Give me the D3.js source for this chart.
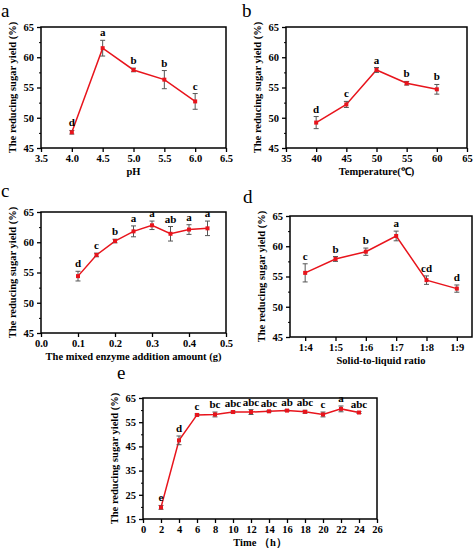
<!DOCTYPE html><html><head><meta charset="utf-8">
<script src="https://cdn.jsdelivr.net/npm/d3@7"></script>
<style>body{margin:0;background:#fff}svg{font-family:"Liberation Serif",serif}</style></head><body>
<svg id="s" width="474" height="551"></svg>
<script>
const aX=[4.0,4.5,5.0,5.5,6.0], aY=[47.6,61.5,57.9,56.3,52.7], aE=[0.3,1.3,0.3,1.5,1.3], aL=["d","a","b","b","c"];
const bX=[40,45,50,55,60], bY=[49.2,52.2,57.9,55.7,54.7], bE=[1.0,0.5,0.4,0.3,0.8], bL=["d","c","a","b","b"];
const cX=[0.1,0.15,0.2,0.25,0.3,0.35,0.4,0.45], cY=[54.4,57.9,60.2,61.8,62.8,61.4,62.1,62.3], cE=[0.8,0.3,0.3,0.9,0.7,1.2,0.8,1.2], cL=["d","c","b","a","a","ab","a","a"];
const dX=["1:4","1:5","1:6","1:7","1:8","1:9"], dY=[55.6,57.9,59.1,61.7,54.4,53.0], dE=[1.5,0.4,0.6,0.8,0.7,0.6], dL=["c","b","b","a","cd","d"];
const eX=[2,4,6,8,10,12,14,16,18,20,22,24], eY=[19.8,47.5,58.0,58.2,59.2,59.2,59.5,59.8,59.3,58.2,60.5,59.0], eE=[0.8,1.8,0.4,1.0,0.4,1.0,0.3,0.3,0.6,1.0,1.2,0.4], eL=["e","d","c","bc","abc","abc","abc","ab","abc","c","a","abc"];
const yT=[45,50,55,60,65], eYT=[15,25,35,45,55,65];
const svg=d3.select("#s"), red="#e8141c";
function panel(o){
 const g=svg.append("g");
 const x=o.cat?d3.scalePoint().domain(o.xs).range([o.l,o.r]).padding(0.5):d3.scaleLinear().domain(o.xd).range([o.l,o.r]);
 const y=d3.scaleLinear().domain(o.yd).range([o.b,o.t]);
 g.append("rect").attr("x",o.l).attr("y",o.t).attr("width",o.r-o.l).attr("height",o.b-o.t).attr("fill","none").attr("stroke","#000").attr("stroke-width",1.5);
 const xa=o.cat?d3.axisBottom(x):d3.axisBottom(x).tickValues(o.xt).tickFormat(o.xf);
 const gx=g.append("g").attr("transform",`translate(0,${o.b})`).call(xa.tickSize(4).tickSizeOuter(0));
 const gy=g.append("g").attr("transform",`translate(${o.l},0)`).call(d3.axisLeft(y).tickValues(o.yt).tickSize(4).tickSizeOuter(0));
 const minor=[];for(let i=0;i<o.yt.length-1;i++)minor.push((o.yt[i]+o.yt[i+1])/2);
 g.append("g").attr("transform",`translate(${o.l},0)`).call(d3.axisLeft(y).tickValues(minor).tickSize(2).tickFormat("")).select(".domain").remove();
 [gx,gy].forEach(a=>{a.selectAll("text").attr("font-size",10.5).attr("font-weight","bold").attr("font-family","Liberation Serif");a.selectAll("line,path").attr("stroke-width",1.3);});
 gy.select(".domain").remove();gx.select(".domain").remove();
 const pts=o.xs.map((v,i)=>({x:x(v),y:y(o.ys[i]),lo:y(o.ys[i]-o.es[i]),hi:y(o.ys[i]+o.es[i]),l:o.ls[i]}));
 g.append("path").attr("d",d3.line().x(d=>d.x).y(d=>d.y)(pts)).attr("fill","none").attr("stroke",red).attr("stroke-width",1.5);
 const eb=g.selectAll(".eb").data(pts).enter().append("g").attr("stroke","#555").attr("stroke-width",1);
 eb.append("line").attr("x1",d=>d.x).attr("x2",d=>d.x).attr("y1",d=>d.lo).attr("y2",d=>d.hi);
 eb.append("line").attr("x1",d=>d.x-2.5).attr("x2",d=>d.x+2.5).attr("y1",d=>d.lo).attr("y2",d=>d.lo);
 eb.append("line").attr("x1",d=>d.x-2.5).attr("x2",d=>d.x+2.5).attr("y1",d=>d.hi).attr("y2",d=>d.hi);
 g.selectAll(".pt").data(pts).enter().append("rect").attr("x",d=>d.x-2).attr("y",d=>d.y-2).attr("width",4).attr("height",4).attr("fill",red);
 g.selectAll(".lb").data(pts).enter().append("text").attr("x",d=>d.x).attr("y",d=>d.hi-4).attr("text-anchor","middle").attr("font-size",11).attr("font-weight","bold").text(d=>d.l);
 g.append("text").attr("x",(o.l+o.r)/2).attr("y",o.b+27).attr("text-anchor","middle").attr("font-size",10.5).attr("font-weight","bold").text(o.xl);
 g.append("text").attr("transform",`translate(${o.l-25},${(o.t+o.b)/2}) rotate(-90)`).attr("text-anchor","middle").attr("font-size",10.5).attr("font-weight","bold").text(o.yl);
 g.append("text").attr("x",o.px).attr("y",o.py).attr("font-size",19).text(o.p);
}
panel({l:41,r:226,t:27,b:148,xd:[3.5,6.5],xt:[3.5,4,4.5,5,5.5,6,6.5],xf:d3.format(".1f"),yd:[45,65],yt:yT,xs:aX,ys:aY,es:aE,ls:aL,xl:"pH",yl:"The reducing sugar yield (%)",p:"a",px:1,py:17});
panel({l:286,r:467,t:27,b:148,xd:[35,65],xt:[35,40,45,50,55,60,65],xf:d3.format("d"),yd:[45,65],yt:yT,xs:bX,ys:bY,es:bE,ls:bL,xl:"Temperature(℃)",yl:"The reducing sugar yield  (%)",p:"b",px:242,py:17});
panel({l:41,r:226,t:212,b:333,xd:[0,0.5],xt:[0,0.1,0.2,0.3,0.4,0.5],xf:d3.format(".1f"),yd:[45,65],yt:yT,xs:cX,ys:cY,es:cE,ls:cL,xl:"The mixed enzyme addition amount (g)",yl:"The reducing sugar yield (%)",p:"c",px:1,py:197});
panel({l:290,r:472,t:216,b:337,cat:true,yd:[45,65],yt:yT,xs:dX,ys:dY,es:dE,ls:dL,xl:"Solid-to-liquid ratio",yl:"The reducing sugar yield (%)",p:"d",px:243,py:203});
panel({l:143,r:377,t:398,b:519,xd:[0,26],xt:d3.range(0,27,2),xf:d3.format("d"),yd:[15,65],yt:eYT,xs:eX,ys:eY,es:eE,ls:eL,xl:"Time （h）",yl:"The reducing sugar yield (%)",p:"e",px:117,py:379});
</script></body></html>
